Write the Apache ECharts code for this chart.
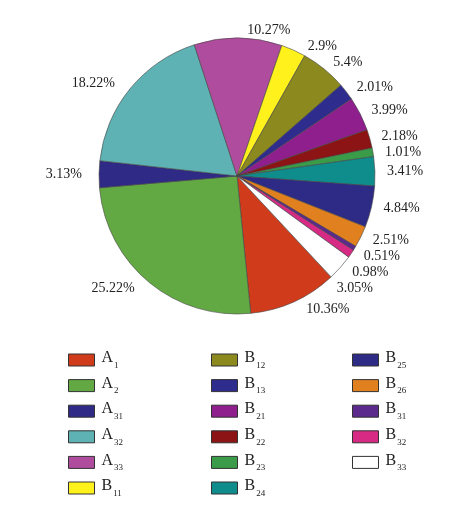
<!DOCTYPE html>
<html><head><meta charset="utf-8">
<script src="https://cdn.jsdelivr.net/npm/echarts@6/dist/echarts.min.js"></script>
<style>html,body{margin:0;padding:0;background:#fff}#c{width:474px;height:515px}</style>
</head><body><div id="c"></div>
<script>
const categories = ['A1','A2','A31','A32','A33','B11','B12','B13','B21','B22','B23','B24','B25','B26','B31','B32','B33'];
const shares = [10.36,25.22,3.13,18.22,10.27,2.9,5.4,2.01,3.99,2.18,1.01,3.41,4.84,2.51,0.51,0.98,3.05];
const colors = ['#d03b1c','#63a943','#2e2a86','#5fb2b3','#b04c9e','#fff21c','#8c8a1f','#2e2c8c','#8f1f8d','#8c1414','#3a9b48','#0f8c8c','#2d2b85','#e0801e','#5b2a8c','#d72a84','#ffffff'];
const legendCols = [['A1','A2','A31','A32','A33','B11'],['B12','B13','B21','B22','B23','B24'],['B25','B26','B31','B32','B33']];

const chart = echarts.init(document.getElementById('c'));
const serif = '"Liberation Serif", "DejaVu Serif", serif';
const legendX = [68, 211, 352];
const legends = legendCols.map((col, i) => ({
  data: col,
  orient: 'vertical',
  left: legendX[i],
  top: 350,
  height: 165,
  padding: 0,
  itemWidth: 26,
  itemHeight: 12,
  itemGap: 5.6,
  icon: 'rect',
  selectedMode: false,
  itemStyle: { borderColor: '#333', borderWidth: 1 },
  formatter: n => '{m|' + n[0] + '}{s|' + n.slice(1) + '}',
  textStyle: {
    fontFamily: serif, color: '#222', padding: [0,0,0,2],
    rich: {
      m: { fontFamily: serif, fontSize: 16, color: '#222', verticalAlign: 'bottom', padding: [0,0,4,0] },
      s: { fontFamily: serif, fontSize: 9, color: '#222', verticalAlign: 'bottom', padding: [0,0,0,1] }
    }
  }
}));

chart.setOption({
  animation: false,
  color: colors,
  legend: legends,
  series: [{
    type: 'pie',
    center: [237, 176],
    radius: [0, 138],
    startAngle: 313,
    clockwise: true,
    data: categories.map((c, i) => ({ name: c, value: shares[i] })),
    itemStyle: { borderColor: '#444', borderWidth: 0.6 },
    label: {
      show: true, position: 'outside', formatter: '{c}%',
      fontFamily: serif, fontSize: 14, color: '#222'
    },
    labelLine: { show: false, length: 8, length2: 4 },
    emphasis: { disabled: true }
  }]
});
</script></body></html>
